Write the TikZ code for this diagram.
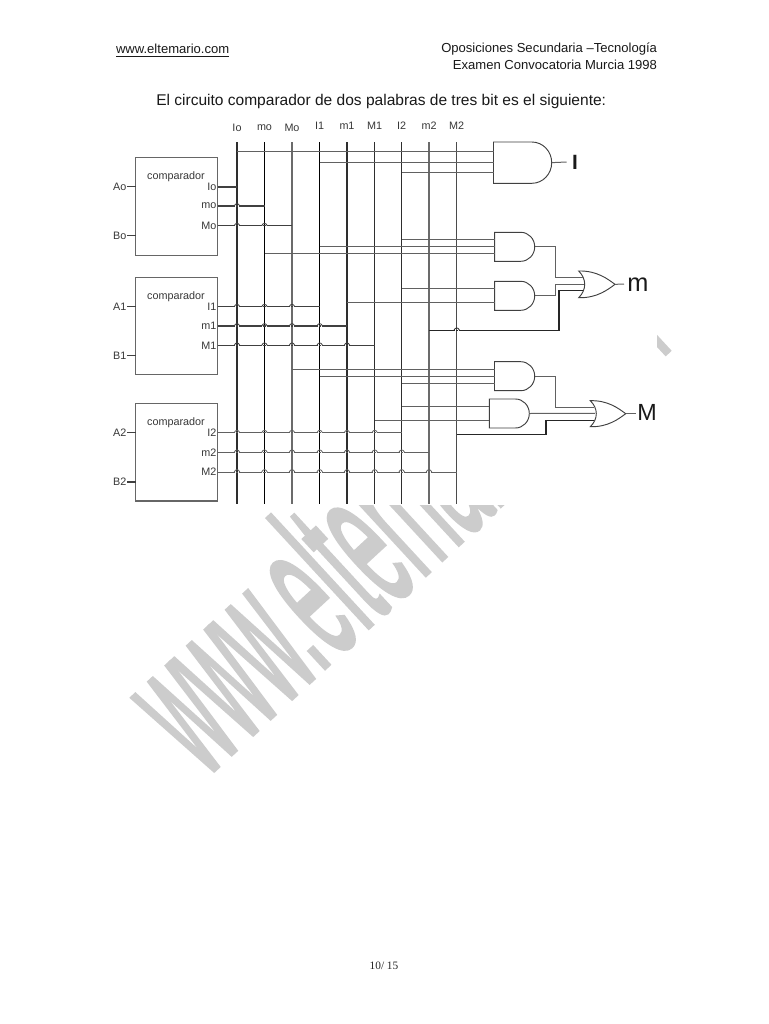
\documentclass[tikz,border=0pt]{standalone}
\usepackage{fontspec}
\setmainfont{Liberation Sans}
\newfontfamily\serifnum{Liberation Serif}
\newfontfamily\markfont[FakeBold=2.5]{Liberation Sans}
\definecolor{railA}{gray}{0.18}
\definecolor{railB}{gray}{0.42}
\definecolor{wireA}{gray}{0.38}
\definecolor{wireB}{gray}{0.25}
\definecolor{inkA}{gray}{0.22}
\definecolor{markgray}{gray}{0.80}
\newcommand\railhops[4][wirethin]{%
  \foreach \vx in {237,264.5,292,319.7,347,374.7,401.7,429,456.7}{%
    \ifdim\vx pt>#2pt\relax\ifdim\vx pt<#3pt\relax
      \draw[white,line width=1.5pt] (\vx-2.2,#4) -- (\vx-1.1,#4) (\vx+1.1,#4) -- (\vx+2.2,#4);
      \draw[#1,line width=0.6pt] (\vx-2.8,#4) .. controls (\vx-1.4,#4-3.2) and (\vx+1.4,#4-3.2) .. (\vx+2.8,#4);
    \fi\fi}}
% x1 y1 x2 y2 : AND gate outline (sizes in picture units, 0.75pt each)
\newcommand\andshape[5]{%
  \node[gatebox,minimum width={(#4-#2)*0.75pt},minimum height={(#5-#3)*0.75pt}] (#1) at ({(#2+#4)/2},{(#3+#5)/2}) {};
  \draw[gateline] (#2,#3) -- ({#4-(#5-#3)*0.48},#3) arc[start angle=-90,end angle=90,x radius={(#5-#3)*0.48},y radius={(#5-#3)/2}] -- (#2,#5) -- cycle;}
\newcommand\orshape[5]{%
  \coordinate (#1) at (#4,{(#3+#5)/2});
  \draw[gateline] (#2,#3) .. controls ({#2+(#4-#2)*0.5},#3-0.5) and ({#2+(#4-#2)*0.8},{#3+(#5-#3)*0.3}) .. (#1)
     .. controls ({#2+(#4-#2)*0.8},{#5-(#5-#3)*0.3}) and ({#2+(#4-#2)*0.5},#5+0.5) .. (#2,#5)
     .. controls (#2+8,{#5-(#5-#3)*0.3}) and (#2+8,{#3+(#5-#3)*0.3}) .. cycle;}
\tikzset{
  rail/.style={line width=1pt,railA},
  railgray/.style={line width=1pt,railB},
  wirethin/.style={line width=0.75pt,wireA},
  wiredark/.style={line width=0.85pt,wireB},
  wirestrong/.style={line width=0.95pt,wireB},
  gateline/.style={line width=0.7pt,black!75},
  gatebox/.style={inner sep=0pt,outer sep=0pt},
  compbox/.style={draw=black!60,line width=0.85pt,minimum width=61.5pt,minimum height=73pt,inner sep=0pt,outer sep=0pt},
  smalllab/.style={font=\fontsize{8.1}{9.6}\selectfont,text=inkA,inner sep=0pt,outer sep=0pt},
  header/.style={font=\fontsize{9.8}{11}\selectfont,text=black!90,inner sep=0pt,outer sep=0pt},
  bigout/.style={inner sep=0pt,anchor=base,text=black!90}
}
\begin{document}
\begin{tikzpicture}[x=0.75pt,y=-0.75pt]
\useasboundingbox (0,0) rectangle (768,1024);
\fill[white] (0,0) rectangle (768,1024);
% watermark
\node[rotate=42.7,xscale=0.36,anchor=base west,inner sep=0pt,text=markgray,font=\fontsize{153}{153}\markfont\selectfont] (mark) at (205,778) {www.eltemario.com};
% the diagram is a white picture laid over the watermark
\fill[white] (100,115) rectangle (657,505);
% page texts
\node[header,anchor=west] (site) at (116,50.5) {\underline{www.eltemario.com}};
\node[header,anchor=east] (h1) at (657,49.5) {Oposiciones Secundaria –Tecnología};
\node[header,anchor=east] (h2) at (657,64.5) {Examen Convocatoria Murcia 1998};
\node[anchor=west,inner sep=0pt,font=\fontsize{11.65}{13}\selectfont,text=black!90] (title) at (156,101.5) {El circuito comparador de dos palabras de tres bit es el siguiente:};
\node[inner sep=0pt,font=\serifnum\fontsize{8.5}{10}\selectfont,text=black!85] (foot) at (384,966) {10/ 15};
% rail heads
\foreach \nm/\txt/\vx/\vy in {r1/Io/237/127.7,r2/mo/264.5/127.7,r3/Mo/292/127.7,r4/I1/319.7/125.7,r5/m1/347/125.7,r6/M1/374.7/125.7,r7/I2/401.7/125.5,r8/m2/429/125.5,r9/M2/456.7/126}{
  \node[smalllab] (t\nm) at (\vx,\vy) {\txt};
  \coordinate (\nm) at (\vx,142);
  \coordinate (\nm b) at (\vx,504);
}
\draw[rail] (r1) -- (r1b);
\draw[rail,line width=1.2pt,black] (r2) -- (r2b);
\draw[railgray,line width=1.2pt] (r3) -- (r3b);
\draw[rail,black] (r4) -- (r4b);
\draw[rail,line width=1.15pt] (r5) -- (r5b);
\draw[rail] (r6) -- (r6b);
\draw[rail] (r7) -- (r7b);
\draw[railgray] (r8) -- (r8b);
\draw[rail,railB!70!black] (r9) -- (r9b);
% comparators
\node[compbox] (c1) at (176.7,206.5) {};
\node[compbox] (c2) at (176.7,326.2) {};
\node[compbox] (c3) at (176.7,452.3) {};
\node[smalllab] (c1t) at (176,176.7) {comparador};
\node[smalllab] (c2t) at (176,296.7) {comparador};
\node[smalllab] (c3t) at (176,423) {comparador};
% comparator inputs
\foreach \nm/\txt/\vy/\cc in {Ao/Ao/186.7/c1,Bo/Bo/235.7/c1,Aone/A1/306.7/c2,Bone/B1/355.3/c2,Atwo/A2/432.7/c3,Btwo/B2/482/c3}{
  \node[smalllab,anchor=east] (\nm) at (126.3,\vy) {\txt};
  \draw[wiredark] (\nm.east) ++(1,0) -- (\cc.west |- \nm.east);
}
% comparator outputs
\foreach \nm/\txt/\vy in {oIo/Io/186.7,omo/mo/206,oMo/Mo/225.7,oIa/I1/306.7,oma/m1/326,oMa/M1/345.3,oIb/I2/432.7,omb/m2/452.3,oMb/M2/472}{
  \node[smalllab,anchor=east] (\nm) at (216.5,\vy) {\txt};
}
\draw[wirestrong,line width=1.3pt] (c1.east |- oIo.east) -- (r1 |- oIo.east);
\draw[wirestrong] (c1.east |- omo.east) -- (r2 |- omo.east); \railhops[wirestrong]{217}{264.5}{206}
\draw[wirestrong] (c1.east |- oMo.east) -- (r3 |- oMo.east); \railhops[wirestrong]{217}{292}{225.7}
\draw[wirestrong] (c2.east |- oIa.east) -- (r4 |- oIa.east); \railhops[wirestrong]{217}{319.7}{306.7}
\draw[wirestrong] (c2.east |- oma.east) -- (r5 |- oma.east); \railhops[wirestrong]{217}{347}{326}
\draw[wirestrong] (c2.east |- oMa.east) -- (r6 |- oMa.east); \railhops[wirestrong]{217}{374.7}{345.3}
\draw[wirethin] (c3.east |- oIb.east) -- (r7 |- oIb.east); \railhops{217}{401.7}{432.7}
\draw[wirethin] (c3.east |- omb.east) -- (r8 |- omb.east); \railhops{217}{429}{452.3}
\draw[wirethin] (c3.east |- oMb.east) -- (r9 |- oMb.east); \railhops{217}{456.7}{472}
% gates
\andshape{g1}{493.5}{142}{551.7}{183.3}
\andshape{g2}{494.7}{232.3}{534.7}{261.3}
\andshape{g3}{494.7}{281.3}{534.7}{310.3}
\andshape{g4}{494.5}{361.7}{534.7}{390.7}
\andshape{g5}{489.3}{399}{529.3}{428}
\orshape{or1}{578.7}{271}{615}{297.7}
\orshape{or2}{590.3}{400.7}{625.7}{426.7}
% wires into the gates
\foreach \rr/\gg/\vx/\vy/\ex in {
  r1/g1/237/151.5/493.5, r4/g1/319.7/162.2/493.5, r7/g1/401.7/172.2/493.5,
  r7/g2/401.7/239.3/494.7, r4/g2/319.7/246.3/494.7, r2/g2/264.5/253.3/494.7,
  r7/g3/401.7/288.7/494.7, r5/g3/347/302.5/494.7,
  r3/g4/292/369/494.5, r4/g4/319.7/376/494.5, r7/g4/401.7/383/494.5,
  r7/g5/401.7/406.7/489.3, r6/g5/374.7/420.7/489.3}{
  \coordinate (pin) at (\gg.west |- 0,\vy);
  \draw[wirethin] (\rr |- pin) -- (pin);
  \railhops{\vx}{\ex}{\vy}
}
% gate outputs
\node[bigout,font=\bfseries\fontsize{15.5}{16}\selectfont] (outI) at (575,169) {I};
\node[bigout,font=\fontsize{19}{20}\selectfont] (outm) at (638,291) {m};
\node[bigout,font=\fontsize{17.5}{18}\selectfont] (outM) at (647,420) {M};
\coordinate (endI) at (566.7,162);
\coordinate (endm) at (624,284);
\coordinate (endM) at (635.7,413.7);
\draw[wirethin] (g1.east) -- (endI);
\draw[wirethin] (or1) -- (endm);
\draw[wirethin] (or2) -- (endM);
% into the OR gates
\coordinate (or1a) at (583,277.7);
\coordinate (or1b) at (584,284);
\coordinate (or1c) at (583,290.7);
\coordinate (or2a) at (594,407.3);
\coordinate (or2b) at (595,413.3);
\coordinate (or2c) at (594,420.7);
\draw[wirethin] (g2.east) -- (555.7,246.8) -- (555.7,277.7) -- (or1a);
\draw[wirethin] (g3.east) -- (555.7,295.8) -- (555.7,284) -- (or1b);
\draw[wirestrong,black!85] (r8 |- or1c) ++(0,39.6) -- (559,330.3) -- (559,290.7) -- (or1c);
\railhops[wirestrong,black!85]{429}{559}{330.3}
\draw[wirethin] (g4.east) -- (555.3,376.2) -- (555.3,407.3) -- (or2a);
\draw[wirethin] (g5.east) -- (or2b);
\draw[wirestrong,black!85] (r9 |- or2c) ++(0,13.6) -- (546,434.3) -- (546,420.7) -- (or2c);
\end{tikzpicture}
\end{document}
